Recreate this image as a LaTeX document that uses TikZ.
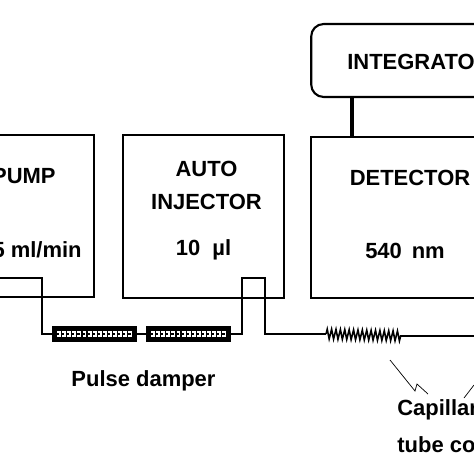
\documentclass[tikz,border=0pt]{standalone}
\usepackage{fontspec}
\setmainfont{Liberation Sans}
\usetikzlibrary{positioning,decorations.pathmorphing}
\begin{document}
\begin{tikzpicture}[
    x=0.02cm, y=-0.02cm,
    every node/.style={font=\fontsize{12.5}{14}\selectfont\bfseries},
    unitbox/.style={draw, line width=1.2pt, inner sep=0pt},
    damper/.style={draw, fill=black, line width=0.6pt, minimum width=48pt, minimum height=8pt, inner sep=0pt},
    pipe/.style={line width=1.2pt, line join=miter}
]
\useasboundingbox (0,0) rectangle (474,474);
\clip (0,0) rectangle (474,474);

% Boxes (open ends run past the frame)
\node (pump) [unitbox, minimum width=96pt, minimum height=92pt] at (10,216) {};
\node (injector) [unitbox, minimum width=91.6pt, minimum height=92.5pt] at (203.5,216.5) {};
\node (detector) [unitbox, minimum width=150pt, minimum height=91.5pt] at (443,217.5) {};
\node (integrator) [unitbox, rounded corners=7pt, minimum width=150pt, minimum height=41.5pt] at (443,60.5) {};
\draw [line width=2.2pt] (integrator.south -| 352,0) -- (detector.north -| 352,0);

% Labels
\node (pumplabel) [anchor=east, inner sep=0pt] at (56,176) {PUMP};
\node (ratelabel) [anchor=east, inner sep=0pt] at (82,250) {5 ml/min};
\node (autolabel) at (206.5,169) {AUTO};
\node (injlabel) at (206.5,202) {INJECTOR};
\node (vollabel) at (203.5,250) {10\hspace{0.55em}µl};
\node (detlabel) at (410,178) {DETECTOR};
\node (nmlabel) at (405,251) {540\hspace{0.45em}nm};
\node (intlabel) [anchor=west, inner sep=0pt] at (347,62) {INTEGRATO};
\node (pulselabel) at (143.5,381) {Pulse damper};
\node (caplabel) [anchor=west, inner sep=0pt] at (397,410) {Capillar};
\node (tubelabel) [anchor=west, inner sep=0pt] at (397,445) {tube co};

% Pulse dampers
\node (damperA) [damper] at (94.5,334) {};
\node (damperB) [damper] at (188.5,334) {};
\foreach \d in {damperA,damperB} {
    \draw [white, line width=3.2pt, dash pattern=on 2.2pt off 0.7pt] ([xshift=3pt]\d.west) -- ([xshift=-3pt]\d.east);
    \draw [black, line width=0.6pt, dash pattern=on 1.2pt off 1.7pt] ([xshift=3pt]\d.west) -- ([xshift=-3pt]\d.east);
}

% Tubing
\coordinate (inlet) at (0,278);
\coordinate (coilstart) at (326,334);
\coordinate (coilend) at (402,336);
\coordinate (outlet) at (474,336);
\draw [pipe] (inlet) -- (42,278) -- (42,334) -- (damperA.west);
\draw [pipe] (damperA.east) -- (damperB.west);
\draw [pipe] (damperB.east) -- (242,334) -- (242,278) -- (265,278) -- (265,334) -- (coilstart);
\draw [line width=0.9pt, decorate, decoration={zigzag, segment length=2.5pt, amplitude=2.8pt}] (coilstart) -- (coilend);
\draw [pipe] (coilend) -- (outlet);

% Pointers to the coils
\coordinate (tipA) at (390,360);
\coordinate (tipB) at (428,394);
\coordinate (tipC) at (464,398);
\coordinate (tipD) at (474,385);
\draw [line width=0.4pt] (tipA) -- (415,391) -- (417,384) -- (tipB);
\draw [line width=0.4pt] (tipC) -- (tipD);
\end{tikzpicture}
\end{document}
